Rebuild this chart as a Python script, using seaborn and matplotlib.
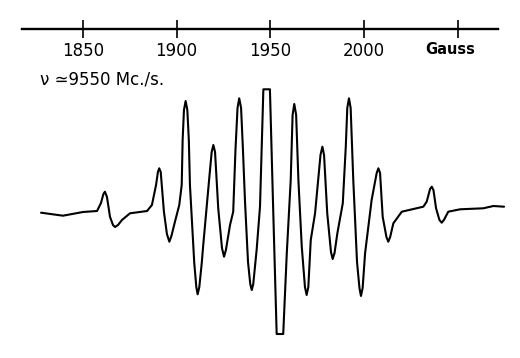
import matplotlib
matplotlib.use("Agg")
import matplotlib.pyplot as plt
import matplotlib.transforms as mtransforms
import seaborn as sns
import pandas as pd

# Magnetic field (Gauss) and first-derivative ESR signal (arbitrary units)
field = [1827.6, 1839.3, 1850.0, 1857.5, 1859.6, 1860.9, 1861.7, 1862.8, 1864.4, 1866.0,
         1867.1, 1868.7, 1870.8, 1875.1, 1884.2, 1886.8, 1889.0, 1890.0, 1890.7, 1891.5,
         1893.2, 1894.8, 1896.1, 1897.2, 1899.1, 1901.4, 1902.7, 1903.2, 1903.9, 1904.8,
         1905.7, 1906.5, 1907.1, 1909.4, 1910.5, 1911.2, 1912.1, 1913.4, 1914.2, 1917.4,
         1918.7, 1919.6, 1920.5, 1922.2, 1924.2, 1925.3, 1926.3, 1928.5, 1930.2, 1931.4,
         1932.5, 1933.4, 1934.4, 1935.4, 1936.5, 1938.1, 1939.3, 1940.1, 1940.9, 1942.7,
         1944.5, 1946.3, 1949.8, 1951.6, 1953.4, 1956.9, 1958.8, 1960.9, 1961.9, 1962.8,
         1963.8, 1965.0, 1966.8, 1968.5, 1969.4, 1970.3, 1971.6, 1973.9, 1976.8, 1977.8,
         1978.7, 1980.4, 1982.4, 1983.3, 1984.3, 1985.8, 1988.7, 1990.3, 1991.1, 1992.0,
         1992.9, 1994.3, 1996.3, 1997.6, 1998.4, 1999.3, 2000.6, 2004.1, 2006.8, 2007.7,
         2008.6, 2010.0, 2012.0, 2013.0, 2014.0, 2015.7, 2020.2, 2031.7, 2033.5, 2035.3,
         2036.2, 2037.1, 2038.5, 2040.3, 2041.5, 2042.7, 2045.0, 2051.3, 2063.7, 2069.1,
         2074.8]
signal = [0.3, -2.7, 1.0, 2.0, 10.0, 19.0, 21.3, 16.0, -3.7, -12.0,
          -14.0, -12.0, -7.0, -0.3, 2.0, 8.0, 28.0, 41.0, 44.7, 41.0,
          1.3, -21.0, -28.7, -23.0, -8.7, 8.0, 28.0, 73.0, 103.0, 112.0,
          103.0, 73.0, 28.0, -50.0, -74.0, -81.3, -74.0, -50.0, -32.0, 34.7,
          61.0, 68.0, 61.0, 4.7, -35.0, -43.7, -37.0, -12.0, 1.3, 63.0,
          105.0, 114.7, 105.0, 63.0, 11.3, -49.0, -71.0, -77.0, -71.0, -37.0,
          6.3, 123.7, 123.7, -0.3, -121.0, -121.0, -40.3, 33.0, 98.0, 109.0,
          98.0, 33.0, -33.7, -74.0, -82.0, -74.0, -27.0, -0.3, 58.0, 66.3,
          58.0, -0.3, -39.0, -46.0, -40.0, -20.3, 9.7, 66.3, 105.0, 114.7,
          105.0, 33.0, -49.0, -75.0, -83.0, -75.0, -40.3, 13.0, 40.0, 44.7,
          40.0, -3.7, -24.0, -28.7, -24.0, -10.3, 1.3, 6.3, 11.3, 24.0,
          26.3, 23.0, 4.7, -7.0, -9.7, -7.0, 1.3, 3.7, 4.7, 7.0,
          6.3]

scale_ticks = [1850, 1900, 1950, 2000, 2050]
scale_labels = ["1850", "1900", "1950", "2000", "Gauss"]
note = "ν ≃9550 Mc./s."

sns.set_theme(style="white")
plt.rcParams['font.family'] = ['DejaVu Sans']

df = pd.DataFrame({"field": field, "signal": signal})

W, H = 520, 358
fig = plt.figure(figsize=(W / 100, H / 100), dpi=100)
fig.patch.set_facecolor("white")

# pixel -> gauss mapping: 1850 G at x=83 px, 50 G per 93.65 px
g_per_px = 50 / 93.65
xmin = 1850 - 83 * g_per_px
xmax = 1850 + (W - 83) * g_per_px

ax = fig.add_axes([0, 0, 1, 1])
sns.lineplot(data=df, x="field", y="signal", ax=ax, color="black", linewidth=1.5,
             sort=False, estimator=None)
ax.set_xlim(xmin, xmax)
ax.set_ylim(213 - H, 213)
ax.axis("off")

ax.text(40 / W, 1 - 79 / H, note, transform=ax.transAxes, fontsize=12,
        ha="left", va="center", color="black")

# field scale at the top
sax = fig.add_axes([0, 1 - 29 / H, 1, 0.001], sharex=ax)
sax.patch.set_visible(False)
for side in ["top", "left", "right"]:
    sax.spines[side].set_visible(False)
sax.spines["bottom"].set_visible(True)
sax.spines["bottom"].set_color("black")
sax.spines["bottom"].set_linewidth(1.7)
sax.spines["bottom"].set_bounds(1850 - 61 * g_per_px, 1850 + 415 * g_per_px)
sax.set_yticks([])
sax.set_xticks(scale_ticks)
sax.set_xticklabels(scale_labels)
sax.tick_params(axis="x", direction="inout", length=13, width=1.2, colors="black",
                labelsize=12, pad=3, bottom=True, labelbottom=True)
shift = mtransforms.ScaledTranslation(-0.07, 0, fig.dpi_scale_trans)
for lab in sax.get_xticklabels():
    if lab.get_text() == "Gauss":
        lab.set_fontweight("bold")
        lab.set_fontsize(10.5)
        lab.set_transform(lab.get_transform() + shift)
sax.set_xlabel("")
sax.set_ylabel("")
sax.set_xlim(xmin, xmax)

fig.savefig("out.png", dpi=100, facecolor="white")
